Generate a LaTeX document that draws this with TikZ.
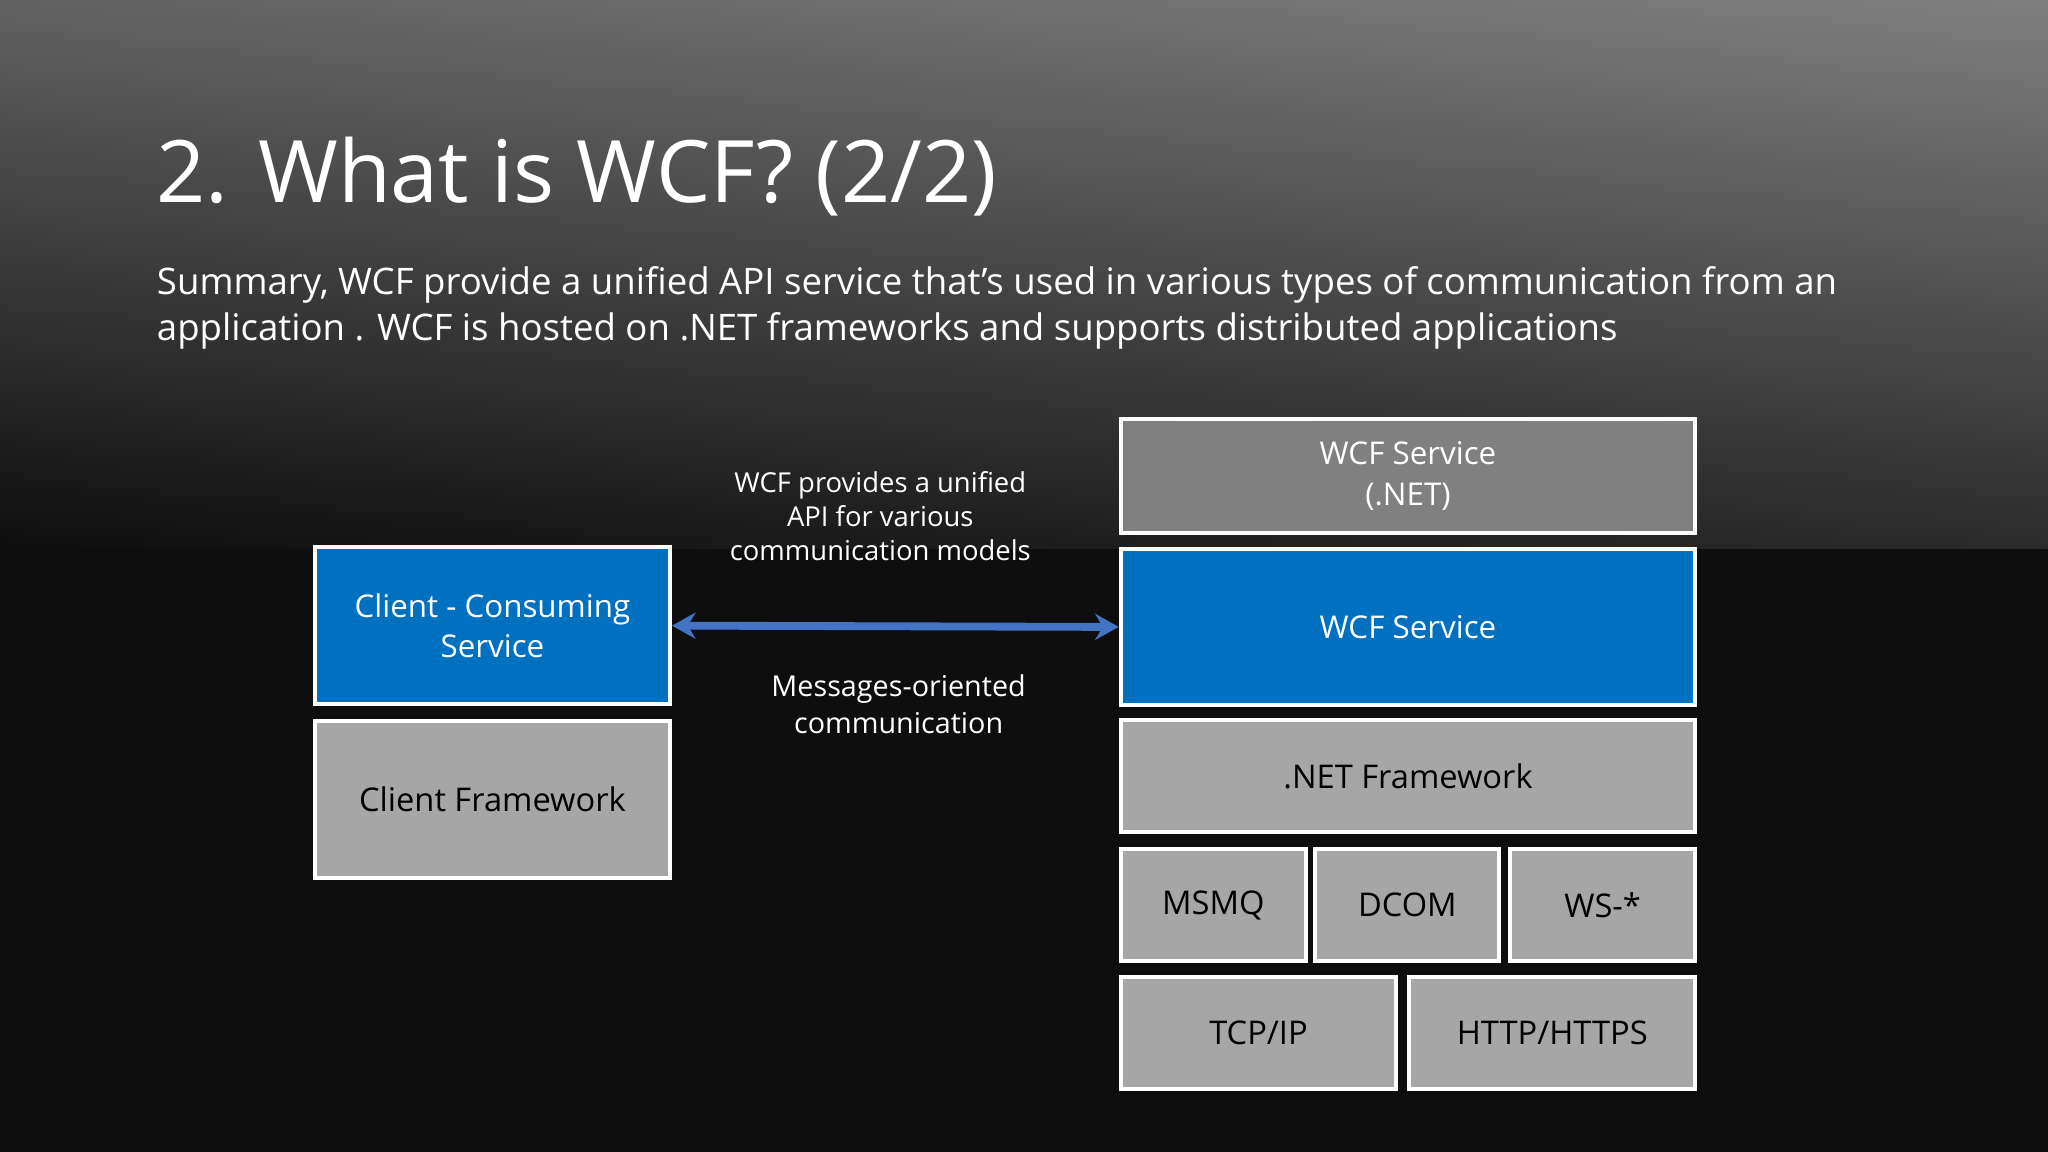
\documentclass[tikz,border=0pt]{standalone}
\usepackage{fontspec}
\setmainfont{Open Sans}
\usetikzlibrary{arrows.meta}
\definecolor{bl}{HTML}{0070C0}
\definecolor{gr}{HTML}{A6A6A6}
\definecolor{dg}{HTML}{808080}
\definecolor{ar}{HTML}{4472C4}
\definecolor{bgd}{HTML}{0E0E0E}
\definecolor{bgt}{HTML}{6E6E6E}
\begin{document}
\begin{tikzpicture}[x=1pt,y=-1pt,
  box/.style={draw=white,line width=3pt,inner sep=0pt,align=center,font=\fontsize{24}{31}\selectfont},
  bbox/.style={box,fill=bl,text=white},
  gbox/.style={box,fill=gr,text=black,font=\fontsize{25}{31}\selectfont},
  lbl/.style={text=white,align=center,font=\fontsize{21}{26}\selectfont}]
\useasboundingbox (0,0) rectangle (1568,882);
\fill[bgd] (0,0) rectangle (1568,882);
\shade[top color=bgt,bottom color=bgd] (0,0) rectangle (1568,420);
\shade[left color=bgd,right color=white,opacity=0.12] (0,0) rectangle (1568,420);
\node[anchor=base west,text=white,font=\fontsize{66}{70}\selectfont] (title) at (116,155) {2. What is WCF? (2/2)};
\node[anchor=north west,text=white,align=left,font=\fontsize{28}{35}\selectfont,inner sep=0pt] (sum) at (120,204) {Summary, WCF provide a unified API service that’s used in various types of communication from an\\application . WCF is hosted on .NET frameworks and supports distributed applications};
\node[bbox,minimum width=272,minimum height=120] (cli) at (377,479) {Client - Consuming\\Service};
\node[gbox,minimum width=272,minimum height=120] (cf) at (377,612) {Client Framework};
\node[box,fill=dg,text=white,minimum width=440,minimum height=87] (wsn) at (1078,364.5) {WCF Service\\(.NET)};
\node[bbox,minimum width=440,minimum height=120] (ws) at (1078,480) {WCF Service};
\node[gbox,minimum width=440,minimum height=86] (net) at (1078,594) {.NET Framework};
\node[gbox,minimum width=142,minimum height=86] (msmq) at (929,693) {MSMQ};
\node[gbox,minimum width=141,minimum height=86] (dcom) at (1077.5,693) {DCOM};
\node[gbox,minimum width=142,minimum height=86] (wss) at (1227,693) {WS-*};
\node[gbox,minimum width=211,minimum height=86] (tcp) at (963.5,791) {TCP/IP};
\node[gbox,minimum width=219,minimum height=86] (http) at (1188.5,791) {HTTP/HTTPS};
\draw[ar,line width=6pt,{Stealth[length=18pt,width=20pt]}-{Stealth[length=18pt,width=20pt]}] (cli.east) -- (ws.west);
\node[lbl] (l1) at (674,395) {WCF provides a unified\\API for various\\communication models};
\node[lbl,font=\fontsize{22}{28}\selectfont] (l2) at (688,539) {Messages-oriented\\communication};
\end{tikzpicture}
\end{document}
